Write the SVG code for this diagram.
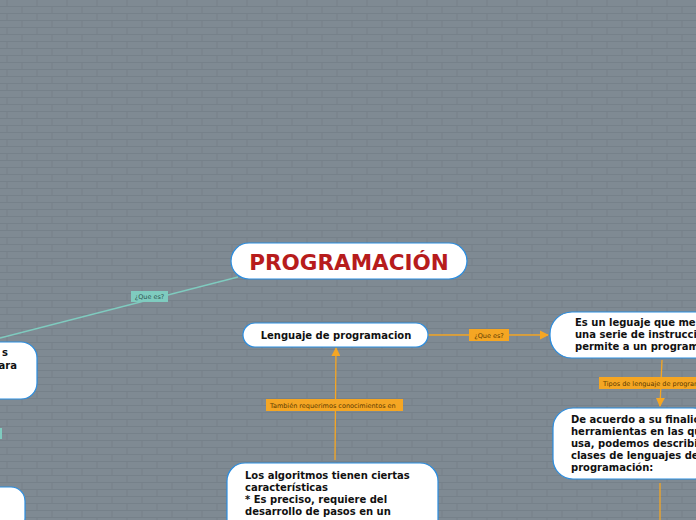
<svg xmlns="http://www.w3.org/2000/svg" width="696" height="520" viewBox="0 0 696 520">
<defs>
<pattern id="brick" width="30" height="14" patternUnits="userSpaceOnUse">
<rect width="30" height="14" fill="#7f8a93"/>
<path d="M0 6.5H30M0 13.5H30M7 0V6.5M22 7V14" stroke="#76818a" stroke-width="1" fill="none"/>
</pattern>
<marker id="ah" viewBox="0 0 10 10" refX="9" refY="5" markerWidth="7" markerHeight="7" orient="auto"><path d="M0 0L10 5L0 10z" fill="#f5a623"/></marker>
<style>
.n{fill:#fff;stroke:#2a8de0;stroke-width:1.2}
.t{font-family:"DejaVu Sans",sans-serif;font-weight:bold;font-size:10px;fill:#111}
.o{stroke:#f5a623;stroke-width:1.3;fill:none}
.ol{fill:#f5a623}
.lt{font-family:"DejaVu Sans",sans-serif;font-size:6.5px;fill:#5a3a00}
</style>
</defs>
<rect width="696" height="520" fill="url(#brick)"/>
<g id="connectors">
<line x1="0" y1="338" x2="238" y2="277" stroke="#7fcbbf" stroke-width="1.3"/>
<rect x="131" y="291" width="37" height="11" fill="#7fcbbf"/>
<text x="149.5" y="299" text-anchor="middle" class="lt" style="fill:#2f5550">¿Que es?</text>
<rect x="-5" y="428" width="7" height="11" fill="#7fcbbf"/>
<line x1="428" y1="335" x2="548" y2="335" class="o" marker-end="url(#ah)"/>
<rect x="469" y="329" width="40" height="12" class="ol"/>
<text x="489" y="337.5" text-anchor="middle" class="lt">¿Que es?</text>
<line x1="662" y1="360" x2="660" y2="406" class="o" marker-end="url(#ah)"/>
<rect x="599" y="377" width="110" height="12" class="ol"/>
<text x="603" y="385.5" class="lt">Tipos de lenguaje de programación</text>
<line x1="335" y1="460" x2="336" y2="348" class="o" marker-end="url(#ah)"/>
<rect x="266" y="399" width="137" height="12" class="ol"/>
<text x="270" y="407.5" class="lt">También requerimos conocimientos en</text>
<line x1="660" y1="483" x2="660" y2="520" class="o"/>
</g>
<g id="n-programacion">
<rect x="231" y="243" width="236" height="36" rx="18" class="n"/>
<text x="349" y="269.5" text-anchor="middle" font-family="DejaVu Sans,sans-serif" font-weight="bold" font-size="21.5" fill="#b71c1c">PROGRAMACIÓN</text>
</g>
<g id="n-lenguaje">
<rect x="243" y="323" width="185" height="24" rx="12" class="n"/>
<text x="336" y="339" text-anchor="middle" class="t">Lenguaje de programacion</text>
</g>
<g id="n-definicion">
<rect x="550" y="312" width="170" height="46" rx="22" class="n"/>
<text class="t"><tspan x="575" y="326">Es un leguaje que me</tspan><tspan x="575" y="338">una serie de instrucci</tspan><tspan x="575" y="350">permite a un program</tspan></text>
</g>
<g id="n-tipos">
<rect x="553" y="408" width="160" height="71" rx="20" class="n"/>
<text class="t"><tspan x="571" y="423">De acuerdo a su finalic</tspan><tspan x="571" y="435">herramientas en las qu</tspan><tspan x="571" y="447">usa, podemos describi</tspan><tspan x="571" y="459">clases de lenguajes de</tspan><tspan x="571" y="471">programación:</tspan></text>
</g>
<g id="n-left">
<rect x="-20" y="342" width="57" height="57" rx="16" class="n"/>
<text class="t" text-anchor="end"><tspan x="8" y="356">s</tspan><tspan x="17" y="369">ara</tspan></text>
</g>
<g id="n-bottomleft">
<rect x="-20" y="487" width="45" height="45" rx="14" class="n"/>
</g>
<g id="n-algoritmos">
<rect x="227" y="463" width="211" height="75" rx="18" class="n"/>
<text class="t"><tspan x="245" y="479">Los algoritmos tienen ciertas</tspan><tspan x="245" y="491">características</tspan><tspan x="245" y="503">* Es preciso, requiere del</tspan><tspan x="245" y="515">desarrollo de pasos en un</tspan></text>
</g>
</svg>
